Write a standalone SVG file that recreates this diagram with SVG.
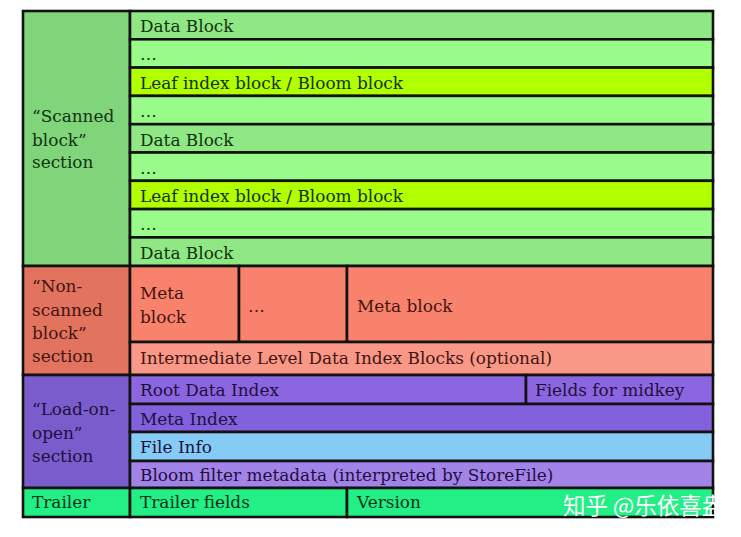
<svg xmlns="http://www.w3.org/2000/svg" width="741" height="537" viewBox="0 0 741 537">
<style>
rect{stroke:#111;stroke-width:2.6}
text{font-family:"DejaVu Serif","Liberation Serif",serif;font-size:16.9px}
.g{fill:#0f330f}.r{fill:#421510}.p{fill:#1c103c}.t{fill:#083316}
.dg{fill:#8fe884}.lg{fill:#99fb8a}.lf{fill:#b2ff00}
.sg{fill:#80d47a}.sr{fill:#e2735f}.mr{fill:#f9826c}.ir{fill:#fa9888}
.sp{fill:#7b5ccc}.rp{fill:#8c66e0}.mp{fill:#8361dc}.fi{fill:#86cbf6}.bp{fill:#a283e8}.tr{fill:#22f086}
.wm{font-family:"Noto Sans CJK SC","Noto Sans",sans-serif;font-size:22.5px;fill:#fff}
</style>
<rect width="741" height="537" fill="#fff" style="stroke:none"/>
<g id="scanned-section"><rect class="sg" x="23" y="11" width="107" height="255"/>
<text class="g" x="32" y="122">“Scanned</text><text class="g" x="32" y="146">block”</text><text class="g" x="32" y="168">section</text></g>
<g id="data-block-1"><rect class="dg" x="130" y="11" width="583" height="28.3"/><text class="g" x="140" y="32">Data Block</text></g>
<g id="dots-1"><rect class="lg" x="130" y="39.3" width="583" height="28.3"/><text class="g" x="140" y="60">…</text></g>
<g id="leaf-1"><rect class="lf" x="130" y="67.6" width="583" height="28.3"/><text class="g" x="140" y="89">Leaf index block / Bloom block</text></g>
<g id="dots-2"><rect class="lg" x="130" y="95.9" width="583" height="28.3"/><text class="g" x="140" y="117">…</text></g>
<g id="data-block-2"><rect class="dg" x="130" y="124.2" width="583" height="28.3"/><text class="g" x="140" y="146">Data Block</text></g>
<g id="dots-3"><rect class="lg" x="130" y="152.5" width="583" height="28.3"/><text class="g" x="140" y="174">…</text></g>
<g id="leaf-2"><rect class="lf" x="130" y="180.8" width="583" height="28.3"/><text class="g" x="140" y="202">Leaf index block / Bloom block</text></g>
<g id="dots-4"><rect class="lg" x="130" y="209.1" width="583" height="28.3"/><text class="g" x="140" y="230">…</text></g>
<g id="data-block-3"><rect class="dg" x="130" y="237.4" width="583" height="28.6"/><text class="g" x="140" y="259">Data Block</text></g>
<g id="nonscanned-section"><rect class="sr" x="23" y="266" width="107" height="109"/>
<text class="r" x="32" y="292">“Non-</text><text class="r" x="32" y="316">scanned</text><text class="r" x="32" y="339">block”</text><text class="r" x="32" y="362">section</text></g>
<g id="meta-block-1"><rect class="mr" x="130" y="266" width="109" height="76"/><text class="r" x="140" y="299">Meta</text><text class="r" x="140" y="323">block</text></g>
<g id="meta-dots"><rect class="mr" x="239" y="266" width="108" height="76"/><text class="r" x="248" y="312">…</text></g>
<g id="meta-block-2"><rect class="mr" x="347" y="266" width="366" height="76"/><text class="r" x="357" y="312">Meta block</text></g>
<g id="intermediate"><rect class="ir" x="130" y="342" width="583" height="33"/><text class="r" x="140" y="364">Intermediate Level Data Index Blocks (optional)</text></g>
<g id="load-on-open-section"><rect class="sp" x="23" y="375" width="107" height="113"/>
<text class="p" x="32" y="415">“Load-on-</text><text class="p" x="32" y="439">open”</text><text class="p" x="32" y="462">section</text></g>
<g id="root-data-index"><rect class="rp" x="130" y="375" width="396" height="29"/><text class="p" x="140" y="396">Root Data Index</text></g>
<g id="fields-midkey"><rect class="rp" x="526" y="375" width="187" height="29"/><text class="p" x="535" y="396">Fields for midkey</text></g>
<g id="meta-index"><rect class="mp" x="130" y="404" width="583" height="28"/><text class="p" x="140" y="425">Meta Index</text></g>
<g id="file-info"><rect class="fi" x="130" y="432" width="583" height="29"/><text class="p" x="140" y="453">File Info</text></g>
<g id="bloom-meta"><rect class="bp" x="130" y="461" width="583" height="27"/><text class="p" x="140" y="481">Bloom filter metadata (interpreted by StoreFile)</text></g>
<g id="trailer"><rect class="tr" x="23" y="488" width="107" height="29"/><text class="t" x="32" y="508">Trailer</text></g>
<g id="trailer-fields"><rect class="tr" x="130" y="488" width="217" height="29"/><text class="t" x="140" y="508">Trailer fields</text></g>
<g id="version"><rect class="tr" x="347" y="488" width="366" height="29"/><text class="t" x="357" y="508">Version</text></g>
<g id="connectors"/>
<text class="wm" x="563" y="514">知乎 @乐依喜盎</text>
</svg>
